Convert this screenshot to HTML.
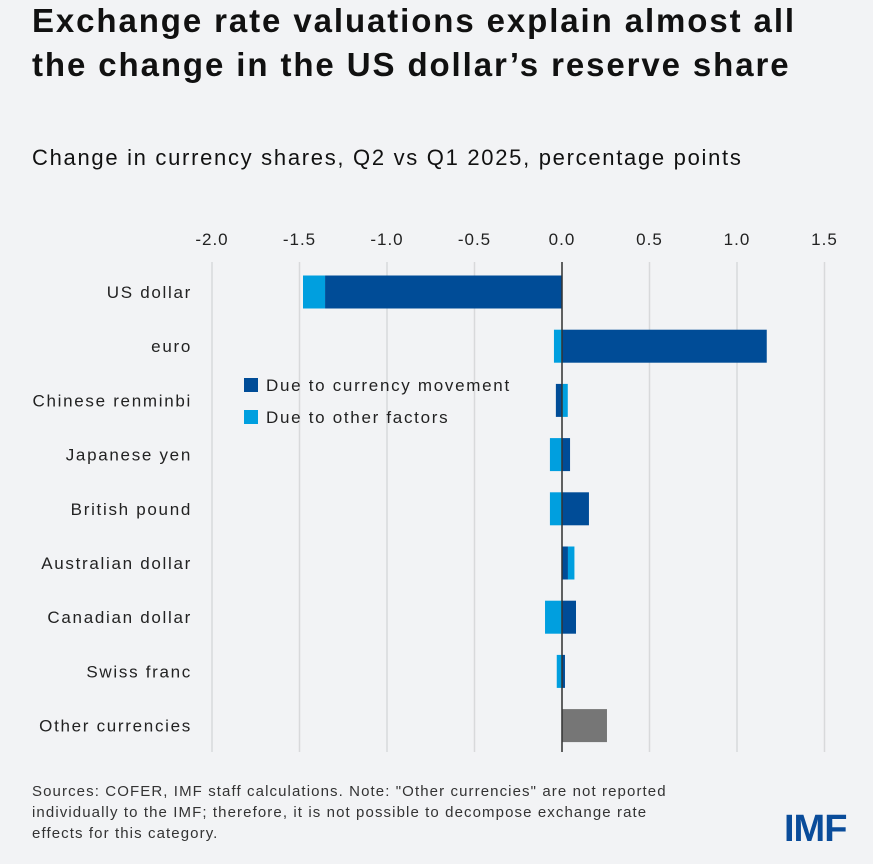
<!DOCTYPE html>
<html><head><meta charset="utf-8"><style>
body{margin:0;background:#f2f3f5;font-family:"Liberation Sans","DejaVu Sans",sans-serif;color:#111;}
#wrap{position:relative;width:873px;height:864px;overflow:hidden;background:#f2f3f5;}
.t{position:absolute;white-space:nowrap;}
</style></head><body>
<div id="wrap">
<div class="t" style="left:32px;top:-1px;font-size:33px;font-weight:bold;line-height:44px;letter-spacing:1.9px">Exchange rate valuations explain almost all<br>the change in the US dollar’s reserve share</div>
<div class="t" style="left:32px;top:145px;font-size:22px;letter-spacing:1.7px">Change in currency shares, Q2 vs Q1 2025, percentage points</div>
<svg id="chart" width="873" height="864" style="position:absolute;left:0;top:0"></svg>
<div class="t" style="left:32px;top:781px;font-size:15px;line-height:21px;color:#333;letter-spacing:1.1px">Sources: COFER, IMF staff calculations. Note: "Other currencies" are not reported<br>individually to the IMF; therefore, it is not possible to decompose exchange rate<br>effects for this category.</div>
<div class="t" style="left:784px;top:808px;font-size:38px;font-weight:bold;color:#0a4c9a;letter-spacing:-1px">IMF</div>
</div>
<script>
const categories=["US dollar","euro","Chinese renminbi","Japanese yen","British pound","Australian dollar","Canadian dollar","Swiss franc","Other currencies"];
const currencyMovement=[-1.354,1.17,-0.035,0.046,0.154,0.034,0.08,0.017,null];
const otherFactors=[-0.126,-0.046,0.033,-0.069,-0.069,0.037,-0.097,-0.03,null];
const otherTotal=[null,null,null,null,null,null,null,null,0.257];
const ticks=[-2.0,-1.5,-1.0,-0.5,0.0,0.5,1.0,1.5];
const NS="http://www.w3.org/2000/svg";
const svg=document.getElementById("chart");
const x=v=>562+v*175;
const yc=i=>292+i*54.2;
const BH=33;
function mk(t,a){const e=document.createElementNS(NS,t);for(const k in a)e.setAttribute(k,a[k]);svg.appendChild(e);return e;}
ticks.forEach(t=>{
 const g=mk("line",{x1:x(t),x2:x(t),y1:262,y2:752,stroke:"#d8d9db","stroke-width":1.5});
 
 
 const l=mk("text",{x:x(t),y:245,"text-anchor":"middle","font-size":17,fill:"#222","letter-spacing":1});
 l.textContent=t.toFixed(1);
 
 
});
function seg(v,start,color,i,name){
 const a=x(start),b=x(start+v);
 const r=mk("rect",{x:Math.min(a,b),y:yc(i)-BH/2,width:Math.abs(b-a),height:BH,fill:color});
 
 
}
categories.forEach((c,i)=>{
 const l=mk("text",{x:192,y:yc(i)+6,"text-anchor":"end","font-size":17,fill:"#222","letter-spacing":1.7});
 l.textContent=c;
 
 
 let pos=0,neg=0;
 [[currencyMovement[i],"#004c97","bar-currency-movement"],[otherFactors[i],"#009fdf","bar-other-factors"],[otherTotal[i],"#767676","bar-other-currencies"]].forEach(([v,col,n])=>{
  if(v==null)return;
  if(v>=0){seg(v,pos,col,i,n);pos+=v;}else{seg(v,neg,col,i,n);neg+=v;}
 });
});
const z=mk("line",{x1:x(0),x2:x(0),y1:262,y2:752,stroke:"#333","stroke-width":1.5});


[["#004c97","Due to currency movement",378],["#009fdf","Due to other factors",410]].forEach(([c,t,y])=>{
 const r=mk("rect",{x:244,y:y,width:14,height:14,fill:c});
 
 
 const tx=mk("text",{x:266,y:y+13,"font-size":17,fill:"#222","letter-spacing":1.7});
 tx.textContent=t;
 
 
});
</script>
</body></html>
